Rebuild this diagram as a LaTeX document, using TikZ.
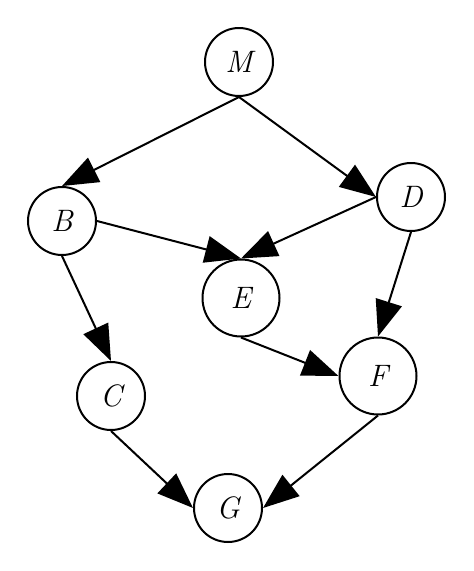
\documentclass[tikz,border=0pt]{standalone}
\usepackage{fontspec}
\setmainfont{Latin Modern Roman}
\usetikzlibrary{arrows.meta}
\begin{document}
\begin{tikzpicture}[x=1pt,y=-1pt,
  vtx/.style={circle,draw,line width=2pt,inner sep=0pt,font=\fontsize{31}{34}\selectfont\itshape},
  small/.style={vtx,minimum size=68pt},
  big/.style={vtx,minimum size=77pt},
  edge/.style={line width=2pt,-{Triangle[length=36pt,width=27pt]}}]
\useasboundingbox (0,0) rectangle (474,571);
\node[small] (M) at (239,62) {M};
\node[small] (B) at (62,221) {B};
\node[small] (D) at (411,197) {D};
\node[big] (E) at (241,298) {E};
\node[big] (F) at (378,376) {F};
\node[small] (C) at (111,396) {C};
\node[small] (G) at (228,508) {G};
\draw[edge] (M.south) -- (B.north);
\draw[edge] (M.south) -- (D.west);
\draw[edge] (B.east) -- (E.north);
\draw[edge] (D.west) -- (E.north);
\draw[edge] (B.south) -- (C.north);
\draw[edge] (D.south) -- (F.north);
\draw[edge] (E.south) -- (F.west);
\draw[edge] (C.south) -- (G.west);
\draw[edge] (F.south) -- (G.east);
\end{tikzpicture}
\end{document}
